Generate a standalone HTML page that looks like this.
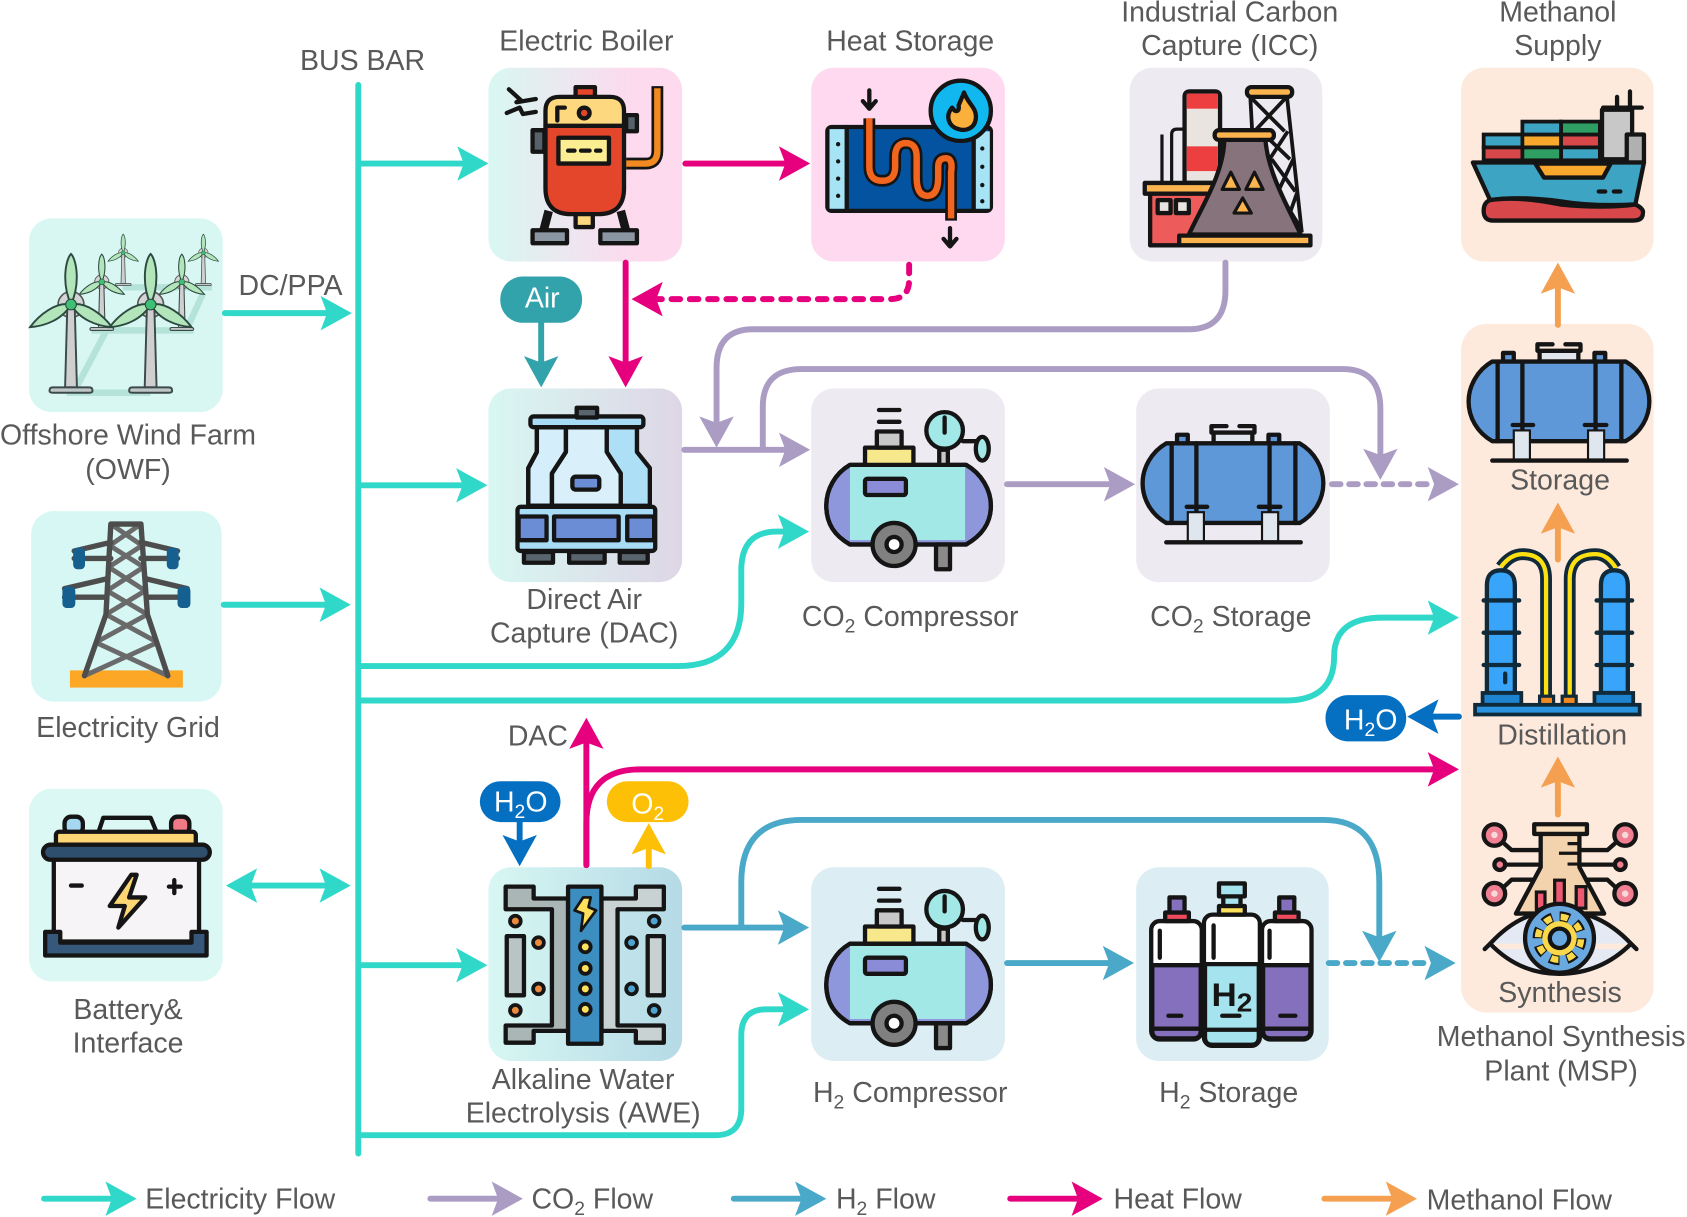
<!DOCTYPE html>
<html lang="en">
<head>
<meta charset="utf-8">
<title>Methanol production system diagram</title>
<style>
html,body{margin:0;padding:0;background:#fff}
svg{display:block}
text{font-family:"Liberation Sans",sans-serif;font-size:26.5px;fill:#595959;text-anchor:middle}
.l{text-anchor:start}
.w{fill:#fff}
.f{fill:none;stroke-width:5.5;stroke-linecap:round}
.k{stroke:#151515;stroke-width:4;stroke-linejoin:round;stroke-linecap:round}
</style>
</head>
<body>
<svg width="1687" height="1217" viewBox="0 0 1568 1131" preserveAspectRatio="none" xmlns="http://www.w3.org/2000/svg">
<defs>
<marker id="mt" markerUnits="userSpaceOnUse" markerWidth="32" markerHeight="34" refX="6" refY="16" orient="auto-start-reverse"><path d="M0 0L29 16L0 32L6 16Z" fill="#2fd8c8"/></marker>
<marker id="mp" markerUnits="userSpaceOnUse" markerWidth="32" markerHeight="34" refX="6" refY="16" orient="auto"><path d="M0 0L29 16L0 32L6 16Z" fill="#ab9cc4"/></marker>
<marker id="mb" markerUnits="userSpaceOnUse" markerWidth="32" markerHeight="34" refX="6" refY="16" orient="auto"><path d="M0 0L29 16L0 32L6 16Z" fill="#4aa9c8"/></marker>
<marker id="mh" markerUnits="userSpaceOnUse" markerWidth="32" markerHeight="34" refX="6" refY="16" orient="auto"><path d="M0 0L29 16L0 32L6 16Z" fill="#e6007e"/></marker>
<marker id="mo" markerUnits="userSpaceOnUse" markerWidth="32" markerHeight="34" refX="6" refY="16" orient="auto"><path d="M0 0L29 16L0 32L6 16Z" fill="#f5a050"/></marker>
<marker id="ma" markerUnits="userSpaceOnUse" markerWidth="32" markerHeight="34" refX="6" refY="16" orient="auto"><path d="M0 0L29 16L0 32L6 16Z" fill="#32a2ab"/></marker>
<marker id="mw" markerUnits="userSpaceOnUse" markerWidth="32" markerHeight="34" refX="6" refY="16" orient="auto"><path d="M0 0L29 16L0 32L6 16Z" fill="#0570c2"/></marker>
<marker id="my" markerUnits="userSpaceOnUse" markerWidth="32" markerHeight="34" refX="6" refY="16" orient="auto"><path d="M0 0L29 16L0 32L6 16Z" fill="#fdc006"/></marker>
<linearGradient id="g1" x1="0" x2="1" y1="0" y2="0"><stop offset="0" stop-color="#d8f7f2"/><stop offset=".75" stop-color="#fddaee"/></linearGradient>
<linearGradient id="g2" x1="0" x2="1" y1="0" y2="0"><stop offset="0" stop-color="#d8f7f2"/><stop offset="1" stop-color="#ded6e6"/></linearGradient>
<linearGradient id="g3" x1="0" x2="1" y1="0" y2="0"><stop offset="0" stop-color="#d8f7f3"/><stop offset="1" stop-color="#b5dae6"/></linearGradient>

<g id="turb">
<circle r="12" fill="#d4d4d4" stroke="#555" stroke-width="1.5"/>
<path d="M-3.5 4L-5.5 77H5.5L3.5 4Z" fill="#cfcfcf" stroke="#3c4a4a" stroke-width="1.8"/>
<path d="M-17 77H17Q20 77 20 80Q20 82 17 82H-17Q-20 82 -20 80Q-20 77 -17 77Z" fill="#bfc6c6" stroke="#3c4a4a" stroke-width="1.8"/>
<path d="M0 0C-9 -20 -5 -42 0 -47C5 -42 9 -20 0 0Z" fill="#b3e5bb" stroke="#2c4a40" stroke-width="1.8"/>
<path d="M0 0C-14 -3 -30 10 -38 21C-24 20 -8 14 0 0Z" fill="#b3e5bb" stroke="#2c4a40" stroke-width="1.8"/>
<path d="M0 0C14 -3 30 10 38 21C24 20 8 14 0 0Z" fill="#b3e5bb" stroke="#2c4a40" stroke-width="1.8"/>
<circle r="5" fill="#3fbf74" stroke="#2c4a40" stroke-width="1"/>
</g>

<g id="comp">
<path d="M790 432H898C912 440 921 455 921 470C921 487 912 498 898 506H790C776 498 768 487 768 470C768 455 776 440 790 432Z" fill="#8f97dc" class="k"/>
<path d="M790 434H897V502H790Z" fill="#a2e8e6"/>
<path d="M790 432H898C912 440 921 455 921 470C921 487 912 498 898 506H790C776 498 768 487 768 470C768 455 776 440 790 432Z" fill="none" class="k"/>
<rect x="804" y="445" width="38" height="15" rx="2" fill="#8a8cd8" class="k"/>
<rect x="804" y="416" width="45" height="16" fill="#f7e88b" class="k"/>
<rect x="815" y="401" width="23" height="15" fill="#c8c8c8" class="k"/>
<path d="M817 381H836M817 392H836" class="k" fill="none"/>
<rect x="870" y="506" width="13" height="23" fill="#8a8a8a" class="k"/>
<circle cx="831" cy="506" r="20" fill="#808080" class="k"/>
<circle cx="831" cy="506" r="7" fill="#fff" class="k"/>
<rect x="873" y="418" width="8" height="14" fill="#c8c8c8" class="k"/>
<path d="M895 410H908" class="k" fill="none"/>
<ellipse cx="913" cy="417" rx="6" ry="11" fill="#a2e8e6" class="k"/>
<circle cx="878" cy="400" r="17" fill="#a2e8e6" class="k"/>
<path d="M878 388V402" class="k" fill="none"/>
</g>

<g id="tank">
<rect x="1094" y="404" width="10" height="9" fill="#5f98d8" class="k"/>
<rect x="1179" y="404" width="10" height="9" fill="#5f98d8" class="k"/>
<path d="M1128 412V402H1164V412Z" fill="#e0e6ec" class="k"/>
<path d="M1126 402V396H1140M1152 396H1166V402" fill="none" class="k"/>
<path d="M1084 412H1208C1222 420 1230 435 1230 449C1230 464 1222 478 1208 486H1084C1070 478 1062 464 1062 449C1062 435 1070 420 1084 412Z" fill="#5f98d8" class="k"/>
<path d="M1089 412V486M1204 412V486M1112 412V490M1180 412V490" fill="none" class="k"/>
<path d="M1103 471H1122M1170 471H1190" fill="none" class="k"/>
<rect x="1104" y="476" width="15" height="28" fill="#dfe6ee" stroke="#151515" stroke-width="2"/>
<rect x="1173" y="476" width="15" height="28" fill="#dfe6ee" stroke="#151515" stroke-width="2"/>
<path d="M1084 504H1209" fill="none" class="k"/>
</g>
</defs>

<rect width="1568" height="1131" fill="#fff"/>

<!-- boxes -->
<rect x="27" y="203" width="180" height="180" rx="21" fill="#d8f7f3"/>
<rect x="29" y="475" width="177" height="177" rx="21" fill="#d6f7f3"/>
<rect x="27" y="733" width="180" height="179" rx="21" fill="#dbf8f4"/>
<rect x="454" y="63" width="180" height="180" rx="21" fill="url(#g1)"/>
<rect x="754" y="63" width="180" height="180" rx="21" fill="#fed9ef"/>
<rect x="1050" y="63" width="179" height="180" rx="21" fill="#edeaf2"/>
<rect x="1358" y="63" width="179" height="180" rx="21" fill="#fdeadd"/>
<rect x="1358" y="301" width="179" height="640" rx="24" fill="#fdeadd"/>
<rect x="454" y="361" width="180" height="180" rx="21" fill="url(#g2)"/>
<rect x="754" y="361" width="180" height="180" rx="21" fill="#edeaf2"/>
<rect x="1056" y="361" width="180" height="180" rx="21" fill="#edeaf2"/>
<rect x="454" y="806" width="180" height="180" rx="21" fill="url(#g3)"/>
<rect x="754" y="806" width="180" height="180" rx="21" fill="#dcedf4"/>
<rect x="1056" y="806" width="179" height="180" rx="21" fill="#dcedf4"/>

<!-- OWF icon -->
<g fill="none" stroke="#b5e3d8" stroke-width="6">
<path d="M114 267H197M85 307H180M62 365H140M71 360L99 307M174 305L189 272"/>
</g>
<use href="#turb" transform="translate(114.5,235) scale(.37)"/>
<use href="#turb" transform="translate(189,235) scale(.37)"/>
<use href="#turb" transform="translate(94.6,262) scale(.55)"/>
<use href="#turb" transform="translate(169,262) scale(.55)"/>
<use href="#turb" transform="translate(66,283)"/>
<use href="#turb" transform="translate(140,283)"/>

<!-- Grid icon -->
<rect x="65" y="623" width="105" height="16" fill="#fda726"/>
<g fill="none" stroke="#6a6a6a" stroke-width="4.5">
<path d="M103 487L132 507M131 487L102 507M102 507L133.500 527M132 507L101 527M101 527L135 549M133.500 527L99.500 549M99.500 549L137 571M135 549L98.500 571M98.500 571L146.500 597M137 571L89 597M89 597L156 628M146.500 597L78.500 628"/>
</g>
<g fill="none" stroke="#4d4d4d" stroke-width="5" stroke-linejoin="round" stroke-linecap="round">
<path d="M78.500 628L98.500 571L103 487H131L137 571L156 628"/>
<path d="M103 504L69 512M69 519H103M131 504L165 512M165 519H131M99 538L60 547M60 555H99M136 538L174 547M174 555H136"/>
</g>
<g fill="#15608f">
<rect x="68" y="509" width="11" height="20" rx="4"/><rect x="155" y="509" width="11" height="20" rx="4"/>
<rect x="58" y="545" width="12" height="20" rx="4"/><rect x="165" y="545" width="12" height="20" rx="4"/>
</g>

<!-- Battery icon -->
<path d="M92 772L96 760H140L145 772" fill="none" class="k"/>
<rect x="60" y="759" width="17" height="16" rx="6" fill="#a5d8f0" class="k"/>
<rect x="159" y="759" width="17" height="16" rx="6" fill="#ef7a85" class="k"/>
<rect x="52" y="773" width="130" height="13" rx="3" fill="#fdd775" class="k"/>
<rect x="50" y="797" width="135" height="78" fill="#f6f4f6" class="k"/>
<path d="M42 866H56V876H178V866H192V888H42Z" fill="#36587a" class="k"/>
<rect x="40" y="785" width="155" height="14" rx="7" fill="#2e4f6e" class="k"/>
<path d="M122 813L102 842H116L110 862L135 834H120L127 813Z" fill="#fdd775" class="k"/>
<path d="M66 823H76M157 824H168M162 818V830" fill="none" class="k"/>

<!-- Boiler icon -->
<path d="M582 152H600Q611 152 611 140V80" fill="none" stroke="#151515" stroke-width="11" stroke-linejoin="round"/>
<path d="M582 152H600Q611 152 611 140V82" fill="none" stroke="#f28a22" stroke-width="6"/>
<rect x="495" y="121" width="11" height="20" fill="#56616a" class="k"/>
<rect x="582" y="107" width="10" height="15" fill="#56616a" class="k"/>
<path d="M510 196L505 215M577 196L582 215" fill="none" stroke="#151515" stroke-width="8"/>
<rect x="495" y="214" width="32" height="12" fill="#8a96a2" class="k"/>
<rect x="558" y="214" width="34" height="12" fill="#8a96a2" class="k"/>
<rect x="535" y="197" width="16" height="14" fill="#fdd87e" class="k"/>
<rect x="535" y="81" width="18" height="10" fill="#e3462b" class="k"/>
<path d="M507 117V103Q507 90 520 90H567Q580 90 580 103V117Z" fill="#fdd87e" class="k"/>
<path d="M507 117H580V175Q580 199 556 199H531Q507 199 507 175Z" fill="#e3462b" class="k"/>
<rect x="519" y="128" width="47" height="24" fill="#fbee92" class="k"/>
<path d="M528 140H534M540 140H548M554 140H558" fill="none" class="k"/>
<path d="M518 112V100H525" fill="none" class="k"/>
<circle cx="543" cy="105" r="5" fill="#e3462b" class="k"/>
<path d="M473 83L484 93L480 95L498 92M471 105L483 100L486 106L498 104" fill="none" class="k"/>

<!-- Heat storage icon -->
<rect x="769" y="118" width="152" height="78" rx="4" fill="#0453a0" class="k"/>
<rect x="771" y="120" width="16" height="74" fill="#a5e3f5"/>
<rect x="905" y="122" width="15" height="72" fill="#a5e3f5"/>
<path d="M787 118V196M905 118V196" fill="none" class="k"/>
<g fill="#151515"><circle cx="779" cy="134" r="2"/><circle cx="779" cy="150" r="2"/><circle cx="779" cy="166" r="2"/><circle cx="779" cy="182" r="2"/><circle cx="913" cy="138" r="2"/><circle cx="913" cy="155" r="2"/><circle cx="913" cy="172" r="2"/><circle cx="913" cy="187" r="2"/></g>
<path d="M808 110V155Q808 168 820 168T832 155V146Q832 133 842 133T852 146V165Q852 182 862 182T872 165V155Q872 147 879 147T884 160V205" fill="none" stroke="#151515" stroke-width="11" stroke-linejoin="round"/>
<path d="M808 110V155Q808 168 820 168T832 155V146Q832 133 842 133T852 146V165Q852 182 862 182T872 165V155Q872 147 879 147T884 160V203" fill="none" stroke="#f2651f" stroke-width="6"/>
<path d="M808 84V100M802 94L808 101L814 94M883 212V228M877 222L883 229L889 222" fill="none" class="k"/>
<circle cx="893" cy="103" r="28" fill="#10b8ef" class="k"/>
<path d="M896 86C900 97 908 100 907 110C906 120 897 122 891 120C882 118 878 108 885 100C888 105 892 104 891 98Z" fill="#fbb03b" class="k"/>

<!-- ICC icon -->
<path d="M1164 125L1162 88H1196L1210 216M1162 90L1194 122M1196 90L1166 122M1172 122L1199 148M1197 122L1180 148M1182 148L1204 178M1202 148L1188 178M1188 178L1209 212M1206 178L1194 212" fill="none" stroke="#151515" stroke-width="3.5"/>
<rect x="1159" y="81" width="42" height="9" rx="4" fill="#fbb44e" class="k"/>
<path d="M1101 170V90Q1101 85 1106 85H1129Q1134 85 1134 90V170Z" fill="#e9e4df" class="k"/>
<rect x="1103" y="87" width="29" height="14" fill="#ed3f3f"/>
<rect x="1103" y="136" width="29" height="23" fill="#ed3f3f"/>
<path d="M1089 170V125Q1089 120 1094 120H1101M1080 170V125" fill="none" stroke="#151515" stroke-width="3"/>
<path d="M1069 179H1124V228H1069Z" fill="#ee5b5b" class="k"/>
<rect x="1064" y="170" width="65" height="10" fill="#fbb44e" class="k"/>
<rect x="1076" y="186" width="12" height="12" fill="#e9e4df" class="k"/>
<rect x="1093" y="186" width="12" height="12" fill="#e9e4df" class="k"/>
<path d="M1138 128C1138 160 1118 190 1105 218H1209C1196 190 1178 160 1176 128Z" fill="#87737b" class="k"/>
<rect x="1129" y="121" width="55" height="9" rx="4" fill="#fbb44e" class="k"/>
<rect x="1096" y="219" width="122" height="9" fill="#fbb44e" class="k"/>
<path d="M1144 160L1152 176H1136ZM1166 160L1174 176H1158ZM1155 184L1163 198H1147Z" fill="#fbb44e" class="k" style="stroke-width:3"/>

<!-- Ship icon -->
<rect x="1489" y="102" width="28" height="46" fill="#c8c8c8" class="k"/>
<rect x="1512" y="125" width="16" height="26" fill="#b0b0b0" class="k"/>
<path d="M1490 100H1526M1503 90V100M1515 85V100" fill="none" class="k"/>
<g stroke="#151515" stroke-width="3.5">
<rect x="1379" y="125" width="36" height="12" fill="#3ea4c4"/><rect x="1415" y="125" width="36" height="12" fill="#f8a82c"/><rect x="1451" y="125" width="36" height="12" fill="#d8484b"/>
<rect x="1379" y="137" width="36" height="12" fill="#d8484b"/><rect x="1415" y="137" width="36" height="12" fill="#2f9e62"/><rect x="1451" y="137" width="36" height="12" fill="#3ea4c4"/>
<rect x="1415" y="113" width="36" height="12" fill="#3ea4c4"/><rect x="1451" y="113" width="36" height="12" fill="#2f9e62"/>
</g>
<path d="M1369 151H1528L1520 190Q1480 192 1450 187Q1410 182 1385 186Z" fill="#3ea4c4" class="k"/>
<path d="M1427 152L1435 165H1490L1497 152Z" fill="#f8a82c" class="k"/>
<path d="M1385 186Q1410 182 1450 190Q1490 194 1520 190Q1528 194 1527 198Q1527 205 1518 205H1388Q1379 205 1379 196Q1379 188 1385 186Z" fill="#d8484b" class="k"/>
<path d="M1486 178H1492M1500 178H1506" fill="none" class="k"/>

<!-- DAC icon -->
<path d="M491 470V435L499 420V397H592V420L604 435V470Z" fill="#d4effb" class="k"/>
<path d="M513 440L526 420V397H564V420L577 440V470H513Z" fill="#d9f0fb" class="k"/>
<path d="M577 440L564 420V398H592V420L604 435V470H577Z" fill="#addff6"/>
<path d="M491 470V435L499 420V397H592V420L604 435V470ZM513 470V440L526 420V397M577 470V440L564 420V397" fill="none" class="k"/>
<rect x="493" y="387" width="105" height="10" rx="3" fill="#a8dbf5" class="k"/>
<rect x="536" y="379" width="19" height="9" fill="#58646e" class="k"/>
<rect x="532" y="443" width="25" height="12" rx="3" fill="#6a8dd5" class="k"/>
<rect x="481" y="471" width="128" height="41" rx="3" fill="#a8dbf5" class="k"/>
<rect x="482" y="480" width="26" height="22" fill="#6a8dd5" class="k"/>
<rect x="515" y="480" width="60" height="22" fill="#6a8dd5" class="k"/>
<rect x="583" y="480" width="25" height="22" fill="#6a8dd5" class="k"/>
<g fill="#58646e" class="k"><rect x="487" y="513" width="27" height="10"/><rect x="529" y="513" width="33" height="10"/><rect x="576" y="513" width="26" height="10"/></g>

<!-- Compressors -->
<use href="#comp"/>
<use href="#comp" transform="translate(0,445)"/>

<!-- Tanks -->
<use href="#tank"/>
<use href="#tank" transform="translate(303,-76)"/>

<!-- AWE icon -->
<path d="M470 824H496V835H528V958H496V969H470V953H513V845H470Z" fill="#aab6b6" class="k"/>
<path d="M617 824H591V835H559V958H591V969H617V953H574V845H617Z" fill="#c9d2d2" class="k"/>
<rect x="528" y="824" width="31" height="146" fill="#3c8dc0" class="k"/>
<path d="M542 834L534 846L542 849L540 865L554 846L547 843L549 834Z" fill="#fde05c" stroke="#151515" stroke-width="2.5" stroke-linejoin="round"/>
<rect x="471" y="870" width="16" height="55" fill="#b9c4c4" class="k"/>
<rect x="602" y="870" width="15" height="55" fill="#c9d2d2" class="k"/>
<g stroke="#151515" stroke-width="3.5">
<g fill="#e98a3c"><circle cx="479" cy="856" r="5"/><circle cx="500.500" cy="876" r="5"/><circle cx="500.500" cy="919" r="5"/><circle cx="479" cy="939" r="5"/></g>
<g fill="#4fa3d1"><circle cx="608" cy="856" r="5"/><circle cx="587" cy="876" r="5"/><circle cx="587" cy="919" r="5"/><circle cx="608" cy="939" r="5"/></g>
<g fill="#fde05c"><circle cx="544" cy="880" r="5"/><circle cx="544" cy="900" r="5"/><circle cx="544" cy="919" r="5"/><circle cx="544" cy="938" r="5"/></g>
</g>

<!-- H2 storage icon -->
<g class="k">
<rect x="1070" y="856" width="47" height="110" rx="8" fill="#fff"/>
<path d="M1071 897H1116V958Q1116 965 1109 965H1078Q1071 965 1071 958Z" fill="#8570bd"/>
<rect x="1173" y="856" width="46" height="110" rx="8" fill="#fff"/>
<path d="M1174 897H1218V958Q1218 965 1211 965H1181Q1174 965 1174 958Z" fill="#8570bd"/>
<rect x="1119" y="850" width="52" height="122" rx="8" fill="#fff"/>
<path d="M1120 896H1170V964Q1170 971 1163 971H1127Q1120 971 1120 964Z" fill="#a5e3ee"/>
<rect x="1083" y="848" width="22" height="8" fill="#ee4b5c"/>
<rect x="1185" y="848" width="22" height="8" fill="#ee4b5c"/>
<rect x="1087" y="834" width="14" height="14" fill="#8570bd"/>
<rect x="1189" y="834" width="14" height="14" fill="#8570bd"/>
<rect x="1133" y="842" width="24" height="8" fill="#fde05c"/>
<rect x="1137" y="833" width="16" height="9" fill="#a5e3ee"/>
<rect x="1133" y="821" width="24" height="12" fill="#a5e3ee"/>
<path d="M1078 865V890M1128 860V890M1180 865V890M1086 944H1098M1136 944H1152M1190 944H1204M1072 956H1116M1122 957H1168M1176 956H1218" fill="none"/>
</g>
<text x="1145" y="935" style="font-size:30px;font-weight:bold;fill:#151515" textLength="38" lengthAdjust="spacingAndGlyphs">H<tspan dy="5" style="font-size:24px">2</tspan></text>

<!-- Distillation icon -->
<g fill="none">
<path d="M1395 527Q1404 515 1415 515Q1437 515 1437 538V648M1502 528Q1494 515 1483 515Q1459 515 1459 538V648" stroke="#102a3a" stroke-width="11"/>
<path d="M1395 527Q1404 515 1415 515Q1437 515 1437 538V648M1502 528Q1494 515 1483 515Q1459 515 1459 538V648" stroke="#fde012" stroke-width="4"/>
</g>
<path d="M1382 644V544Q1382 530 1395 530Q1408 530 1408 544V644Z" fill="#38a4fa" stroke="#102a3a" stroke-width="4" stroke-linejoin="round"/>
<path d="M1488 644V544Q1488 530 1500.500 530Q1513 530 1513 544V644Z" fill="#38a4fa" stroke="#102a3a" stroke-width="4" stroke-linejoin="round"/>
<path d="M1379 558H1412M1379 588H1412M1379 618H1412M1484 558H1517M1484 588H1517M1484 618H1517M1399 626V634" fill="none" stroke="#102a3a" stroke-width="4" stroke-linecap="round"/>
<rect x="1378" y="644" width="36" height="11" fill="#1f84d0" stroke="#102a3a" stroke-width="3.500"/>
<rect x="1482" y="644" width="36" height="11" fill="#1f84d0" stroke="#102a3a" stroke-width="3.500"/>
<rect x="1431" y="647" width="13" height="8" fill="#f28a22" stroke="#102a3a" stroke-width="3"/>
<rect x="1452" y="647" width="13" height="8" fill="#f28a22" stroke="#102a3a" stroke-width="3"/>
<rect x="1371" y="655" width="153" height="9" fill="#2a93e0" stroke="#102a3a" stroke-width="3.500"/>

<!-- Synthesis icon -->
<g fill="none" class="k">
<path d="M1397 783L1405 790H1434M1394 803.500H1434M1397 825L1405 817.500H1428M1502 783L1494 790H1466M1506 803.500H1466M1502 825L1494 817.500H1472"/>
</g>
<g fill="#f07f92" class="k">
<circle cx="1389" cy="776" r="10"/><circle cx="1510.500" cy="776" r="10"/><circle cx="1394" cy="803.500" r="5"/><circle cx="1506" cy="803.500" r="5"/><circle cx="1389" cy="830.500" r="10"/><circle cx="1510.500" cy="830.500" r="10"/>
</g>
<g fill="#f8d9d9" stroke="none"><circle cx="1389" cy="776" r="3"/><circle cx="1510.500" cy="776" r="3"/><circle cx="1389" cy="830.500" r="3"/><circle cx="1510.500" cy="830.500" r="3"/></g>
<path d="M1432 774V806L1409 849H1491L1468 806V774Z" fill="#f3d2ae" class="k"/>
<rect x="1426" y="766" width="49" height="9" fill="#f9dcb9" class="k"/>
<path d="M1457 784H1467M1449 793H1467M1457 803H1467" fill="none" stroke="#151515" stroke-width="3"/>
<g fill="#ee5a72" stroke="#151515" stroke-width="3">
<rect x="1428" y="829" width="8" height="16"/><rect x="1445" y="818" width="9" height="24"/><rect x="1465" y="824" width="9" height="20"/>
</g>
<path d="M1380 882L1386 876Q1414 846 1449 846Q1486 846 1515 876L1521 882M1385 877Q1412 905 1449 905Q1488 905 1516 877" fill="#e4e9f3" class="k"/>
<circle cx="1449.500" cy="872" r="32" fill="#6aa8e0" class="k"/>
<circle cx="1449.500" cy="872" r="20" fill="none" stroke="#151515" stroke-width="10" stroke-dasharray="9 6.700"/>
<circle cx="1449.500" cy="872" r="20" fill="none" stroke="#fbd84a" stroke-width="6" stroke-dasharray="7 8.700" stroke-dashoffset="-1"/>
<circle cx="1449.500" cy="872" r="16" fill="#fbd84a" stroke="#151515" stroke-width="0"/>
<circle cx="1449.500" cy="872" r="9" fill="#6aa8e0" class="k"/>

<!-- connectors -->
<g>
<path class="f" d="M333 79V1072" stroke="#2fd8c8" stroke-width="6.5"/>
<g stroke="#2fd8c8" fill="none" class="f">
<path d="M209 291H304" marker-end="url(#mt)"/>
<path d="M208 562H303" marker-end="url(#mt)"/>
<path d="M233 823H303" marker-start="url(#mt)" marker-end="url(#mt)"/>
<path d="M336 152H431" marker-end="url(#mt)"/>
<path d="M336 451H430" marker-end="url(#mt)"/>
<path d="M336 619H630Q689 619 689 560V530Q689 494 722 494H729" marker-end="url(#mt)"/>
<path d="M336 651H1195Q1240 651 1240 610Q1240 574 1285 574H1333" marker-end="url(#mt)"/>
<path d="M336 897H430" marker-end="url(#mt)"/>
<path d="M336 1055H665Q689 1055 689 1030V962Q689 938 712 938H729" marker-end="url(#mt)"/>
</g>
<g stroke="#e6007e" fill="none" class="f">
<path d="M637 152H730" marker-end="url(#mh)"/>
<path d="M581.5 244V337" marker-end="url(#mh)"/>
<path d="M845 246V260Q845 278 827 278H610" stroke-dasharray="8 9" marker-end="url(#mh)"/>
<path d="M545 804V690" marker-end="url(#mh)"/>
<path d="M545 804V765Q545 715 595 715H1333" marker-end="url(#mh)"/>
</g>
<path class="f" d="M503 300V337" stroke="#32a2ab" marker-end="url(#ma)"/>
<g stroke="#ab9cc4" fill="none" class="f">
<path d="M636 418H730" marker-end="url(#mp)"/>
<path d="M1139 244V270Q1139 306 1105 306H700Q666 306 666 342V393" marker-end="url(#mp)"/>
<path d="M709 417V378Q709 343 745 343H1248Q1283 343 1283 380V423" marker-end="url(#mp)"/>
<path d="M936 450H1032" marker-end="url(#mp)"/>
<path d="M1238 450H1333" stroke-dasharray="8 8" marker-end="url(#mp)"/>
</g>
<g stroke="#4aa9c8" fill="none" class="f">
<path d="M636 862H729" marker-end="url(#mb)"/>
<path d="M689 861V820Q689 762 745 762H1230Q1282 762 1282 820V871" marker-end="url(#mb)"/>
<path d="M936 895H1031" marker-end="url(#mb)"/>
<path d="M1235 895H1330" stroke-dasharray="8 8" marker-end="url(#mb)"/>
</g>
<g stroke="#f5a050" fill="none" class="f">
<path d="M1448 302V267" marker-end="url(#mo)"/>
<path d="M1448 520V490" marker-end="url(#mo)"/>
<path d="M1448 757V726" marker-end="url(#mo)"/>
</g>
<path class="f" d="M483 764V782" stroke="#0570c2" marker-end="url(#mw)"/>
<path class="f" d="M603 805V788" stroke="#fdc006" marker-end="url(#my)"/>
<path class="f" d="M1356 666H1331" stroke="#0570c2" marker-end="url(#mw)"/>
</g>

<!-- pills -->
<rect x="465" y="257" width="76" height="43" rx="21" fill="#32a2ab"/>
<rect x="446" y="726" width="75" height="38" rx="19" fill="#0570c2"/>
<rect x="564" y="726" width="76" height="38" rx="19" fill="#fdc006"/>
<rect x="1232" y="646" width="75" height="43" rx="21" fill="#0570c2"/>
<text x="504" y="286" class="w">Air</text>
<text x="484" y="754" class="w">H<tspan dy="6" style="font-size:18px">2</tspan><tspan dy="-6">O</tspan></text>
<text x="602" y="756" class="w">O<tspan dy="6" style="font-size:18px">2</tspan></text>
<text x="1274" y="678" class="w">H<tspan dy="6" style="font-size:18px">2</tspan><tspan dy="-6">O</tspan></text>

<!-- labels -->
<text x="337" y="65">BUS BAR</text>
<text x="545" y="47">Electric Boiler</text>
<text x="846" y="47">Heat Storage</text>
<text x="1143" y="20">Industrial Carbon</text>
<text x="1143" y="51">Capture (ICC)</text>
<text x="1448" y="20">Methanol</text>
<text x="1448" y="51">Supply</text>
<text x="270" y="274">DC/PPA</text>
<text x="119" y="413">Offshore Wind Farm</text>
<text x="119" y="445">(OWF)</text>
<text x="119" y="685">Electricity Grid</text>
<text x="119" y="947">Battery&amp;</text>
<text x="119" y="978">Interface</text>
<text x="543" y="566">Direct Air</text>
<text x="543" y="597">Capture (DAC)</text>
<text x="846" y="582">CO<tspan dy="6" style="font-size:18px">2</tspan><tspan dy="-6"> Compressor</tspan></text>
<text x="1144" y="582">CO<tspan dy="6" style="font-size:18px">2</tspan><tspan dy="-6"> Storage</tspan></text>
<text x="1450" y="455">Storage</text>
<text x="1452" y="692">Distillation</text>
<text x="1450" y="931">Synthesis</text>
<text x="1451" y="972">Methanol Synthesis</text>
<text x="1451" y="1004">Plant (MSP)</text>
<text x="500" y="693">DAC</text>
<text x="542" y="1012">Alkaline Water</text>
<text x="542" y="1043">Electrolysis (AWE)</text>
<text x="846" y="1024">H<tspan dy="6" style="font-size:18px">2</tspan><tspan dy="-6"> Compressor</tspan></text>
<text x="1142" y="1024">H<tspan dy="6" style="font-size:18px">2</tspan><tspan dy="-6"> Storage</tspan></text>

<!-- legend -->
<g class="f" fill="none">
<path d="M41 1114H104" stroke="#2fd8c8" marker-end="url(#mt)"/>
<path d="M400 1114H463" stroke="#ab9cc4" marker-end="url(#mp)"/>
<path d="M682 1114H745" stroke="#4aa9c8" marker-end="url(#mb)"/>
<path d="M939 1114H1002" stroke="#e6007e" marker-end="url(#mh)"/>
<path d="M1231 1114H1294" stroke="#f5a050" marker-end="url(#mo)"/>
</g>
<text x="135" y="1123" class="l">Electricity Flow</text>
<text x="494" y="1123" class="l">CO<tspan dy="6" style="font-size:18px">2</tspan><tspan dy="-6"> Flow</tspan></text>
<text x="777" y="1123" class="l">H<tspan dy="6" style="font-size:18px">2</tspan><tspan dy="-6"> Flow</tspan></text>
<text x="1035" y="1123" class="l">Heat Flow</text>
<text x="1326" y="1124" class="l">Methanol Flow</text>
</svg>
</body>
</html>
